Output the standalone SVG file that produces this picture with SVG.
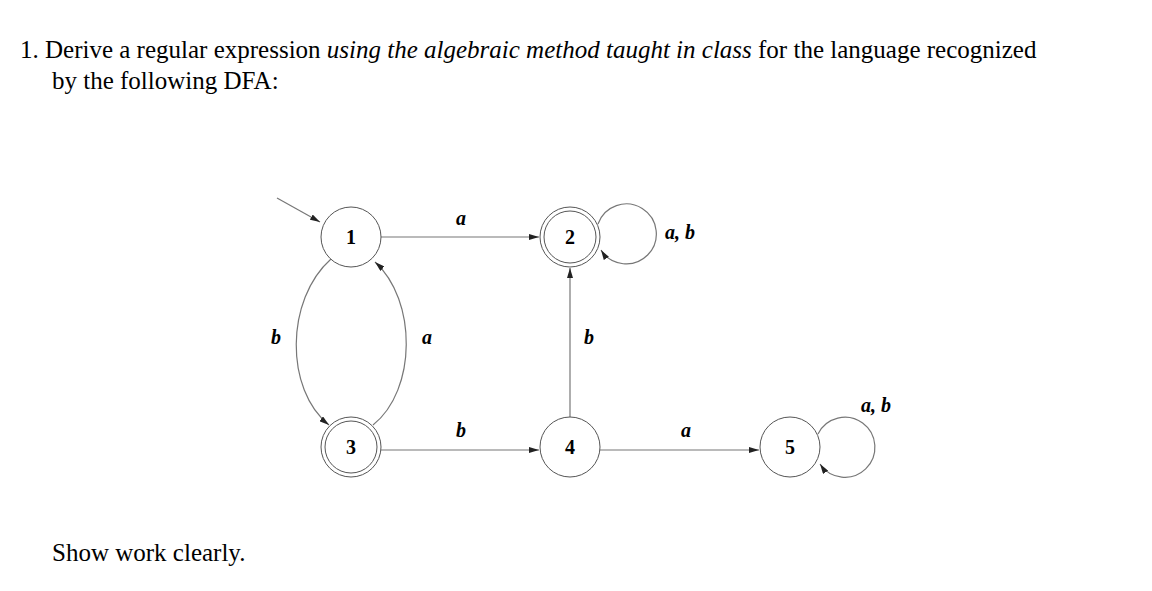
<svg xmlns="http://www.w3.org/2000/svg" width="1152" height="591" viewBox="0 0 1152 591">
<style>
.t{font-family:"Liberation Serif",serif;font-size:25px;fill:#000}
.n{font-family:"Liberation Serif",serif;font-size:20px;font-weight:bold;text-anchor:middle;fill:#000}
.l{font-family:"Liberation Serif",serif;font-size:20px;font-weight:bold;font-style:italic;text-anchor:middle;fill:#000}
.c{fill:#fff;stroke:#555;stroke-width:1}
.e{fill:none;stroke:#777;stroke-width:1.2}
</style>
<defs><marker id="ah" viewBox="0 0 10 6" refX="10" refY="3" markerWidth="10" markerHeight="6" orient="auto" markerUnits="userSpaceOnUse"><path d="M0,0L10,3L0,6z" fill="#222"/></marker></defs>
<rect width="1152" height="591" fill="#fff"/>
<text class="t" x="20" y="58">1.  Derive a regular expression <tspan font-style="italic">using the algebraic method taught in class</tspan> for the language recognized</text>
<text class="t" x="52" y="89">by the following DFA:</text>
<text class="t" x="52" y="561">Show work clearly.</text>
<g id="connectors">
<path class="e" d="M277,198 L320,222" stroke="#333" marker-end="url(#ah)"/>
<path class="e" d="M381,237 L539,237" marker-end="url(#ah)"/>
<path class="e" d="M331,259 C285,300 285,390 329,425" marker-end="url(#ah)"/>
<path class="e" d="M373,425 C417,390 417,300 375,262" marker-end="url(#ah)"/>
<path class="e" d="M381,450 L539,450" marker-end="url(#ah)"/>
<path class="e" d="M570,417 L570,268" marker-end="url(#ah)"/>
<path class="e" d="M600,450 L759,450" marker-end="url(#ah)"/>
<path class="e" d="M598,224 A30,30 0 1 1 601,250" marker-end="url(#ah)"/>
<path class="e" d="M818,434 A30,30 0 1 1 820,464" marker-end="url(#ah)"/>
<text class="l" x="461" y="225">a</text>
<text class="l" x="680" y="239">a, b</text>
<text class="l" x="276" y="344">b</text>
<text class="l" x="427" y="344">a</text>
<text class="l" x="589" y="344">b</text>
<text class="l" x="461" y="437">b</text>
<text class="l" x="686" y="437">a</text>
<text class="l" x="876" y="412">a, b</text>
</g>
<g id="n1"><circle class="c" cx="351" cy="237" r="30"/><text class="n" x="351" y="244">1</text></g>
<g id="n2"><circle class="c" cx="570" cy="237" r="30"/><circle class="c" cx="570" cy="237" r="26"/><text class="n" x="570" y="244">2</text></g>
<g id="n3"><circle class="c" cx="351" cy="447" r="30"/><circle class="c" cx="351" cy="447" r="26"/><text class="n" x="351" y="454">3</text></g>
<g id="n4"><circle class="c" cx="570" cy="447" r="30"/><text class="n" x="570" y="454">4</text></g>
<g id="n5"><circle class="c" cx="790" cy="447" r="30"/><text class="n" x="790" y="454">5</text></g>
</svg>
